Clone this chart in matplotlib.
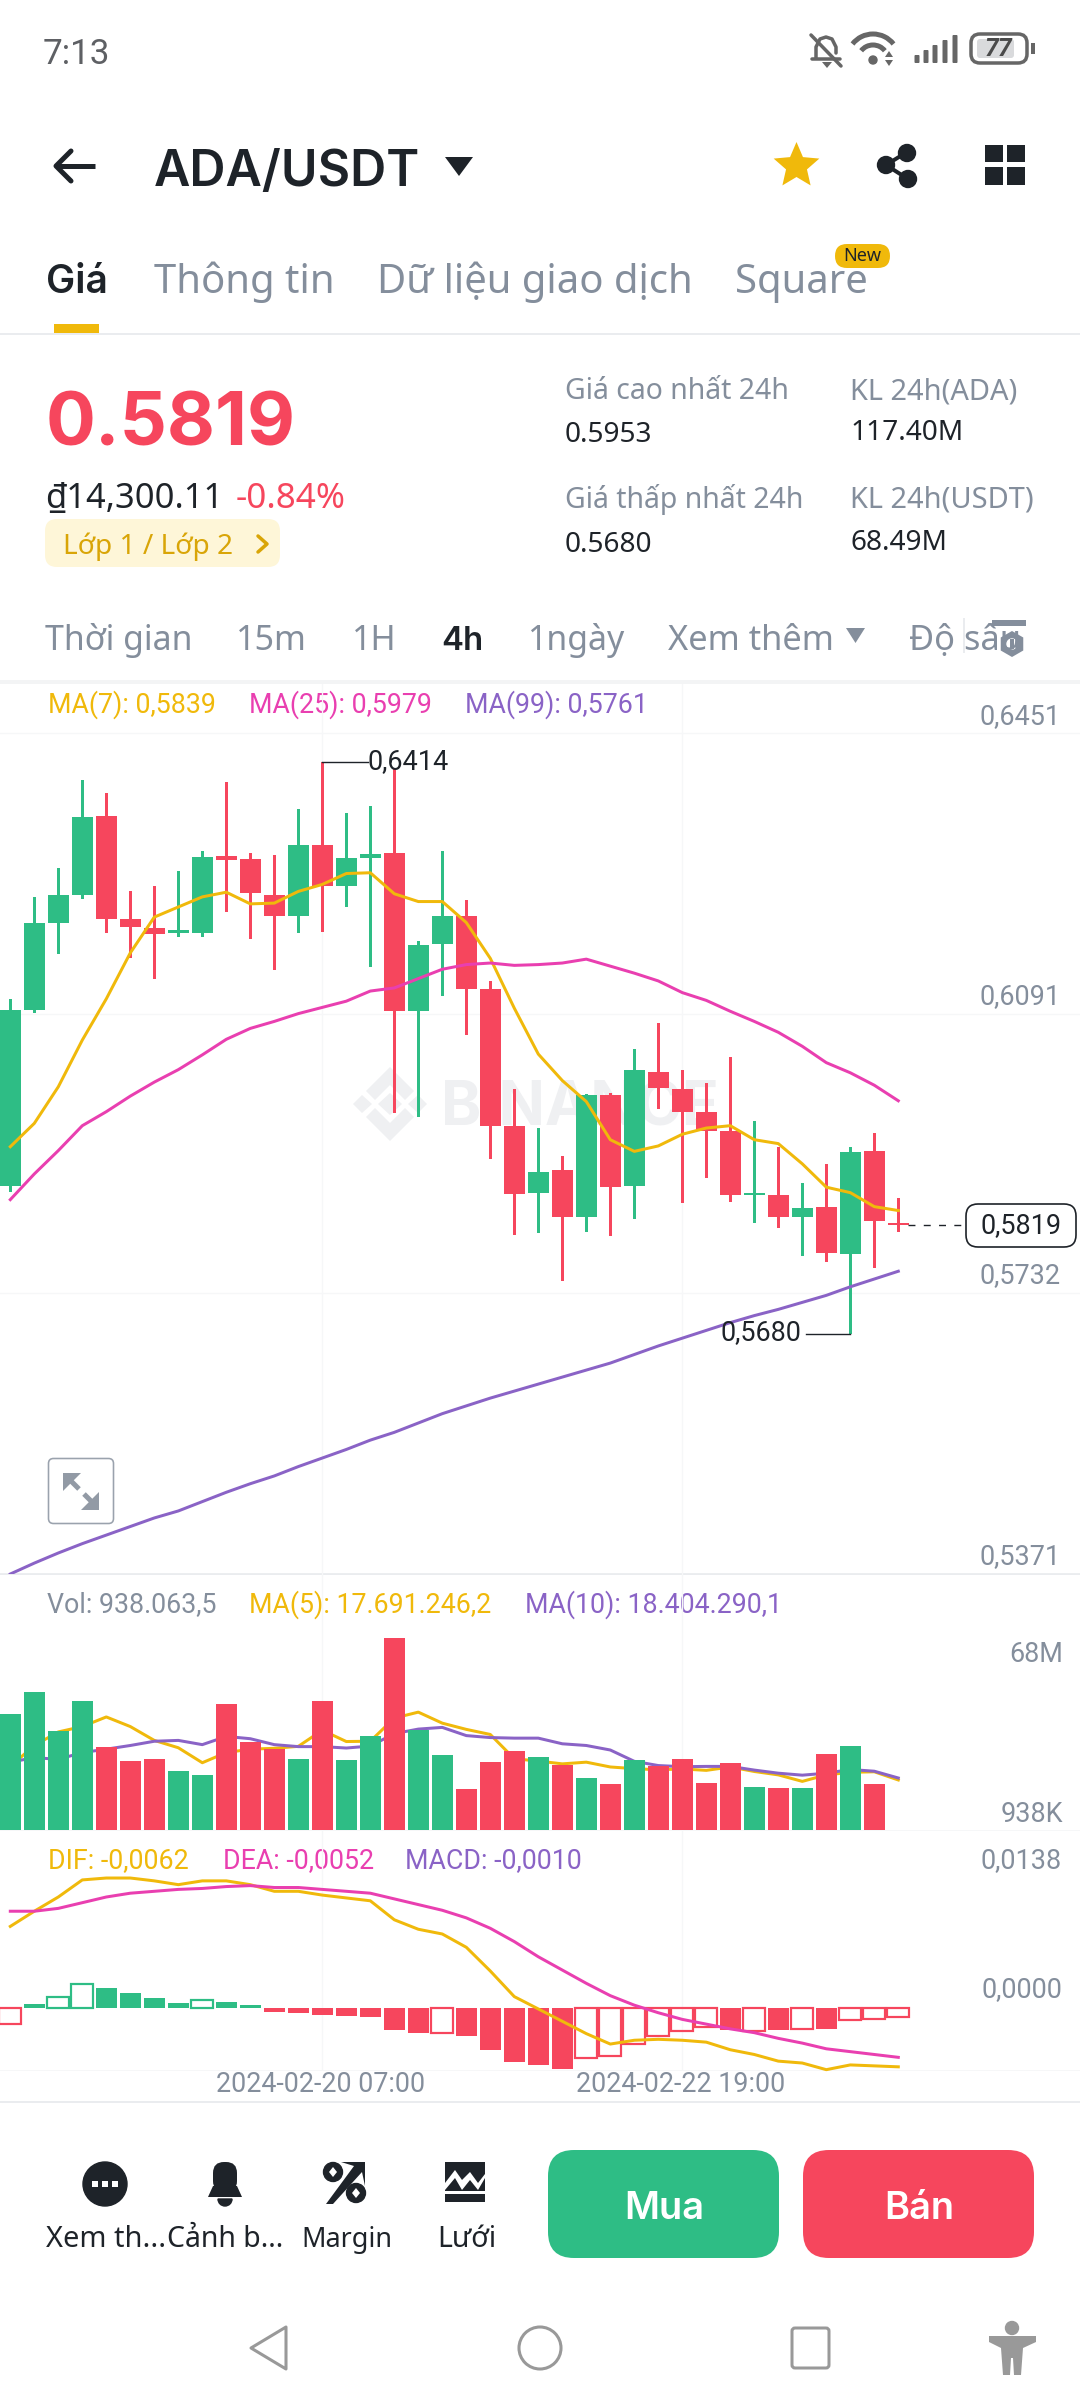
import numpy as np
import matplotlib
matplotlib.use('Agg')
import matplotlib.pyplot as plt
from matplotlib.patches import Polygon, Circle, Rectangle, FancyBboxPatch, Arc, Wedge

# candles, oldest first
opens = [.5870, .6096, .6208, .6243, .6345, .6212, .6201, .6194, .6195, .6293, .6290, .6244, .6216, .6308, .6255, .6291, .6297, .6095, .6180,
         .6216, .6123, .5946, .5860, .5890, .5830, .5987, .5869, .6016, .5994, .5964, .5940, .5858, .5858, .5830, .5842, .5782, .5914, .5822]
highs = [.6110, .6241, .6278, .6391, .6375, .6249, .6255, .6274, .6300, .6389, .6298, .6295, .6354, .6414, .6349, .6358, .6407, .6184, .6300,
         .6237, .6133, .5994, .5944, .5908, .5988, .5989, .6046, .6079, .6019, .6002, .6035, .5953, .5920, .5874, .5898, .5919, .5937, .5854]
lows = [.5862, .6092, .6167, .6238, .6195, .6162, .6135, .6190, .6189, .6222, .6187, .6147, .6194, .6196, .6228, .6151, .5963, .5958, .6114,
        .6064, .5904, .5806, .5809, .5747, .5810, .5805, .5827, .5968, .5848, .5880, .5849, .5822, .5816, .5780, .5772, .5680, .5764, .5811]
closes = [.6096, .6208, .6243, .6344, .6212, .6202, .6193, .6198, .6292, .6288, .6246, .6217, .6308, .6255, .6291, .6296, .6095, .6179, .6216,
          .6123, .5946, .5859, .5888, .5830, .5987, .5868, .6018, .5995, .5965, .5940, .5858, .5861, .5830, .5841, .5784, .5913, .5824, .5819]

ma7 = [.5920, .5950, .5997, .6057, .6110, .6169, .6215, .6228, .6241, .6247, .6232, .6233, .6248, .6257, .6271, .6272, .6245, .6235, .6235,
       .6208, .6162, .6098, .6039, .6005, .5978, .5929, .5914, .5921, .5936, .5944, .5947, .5929, .5924, .5898, .5868, .5861, .5843, .5838]
ma25 = [.5852, .5885, .5915, .5947, .5965, .5985, .6003, .6019, .6038, .6058, .6072, .6081, .6091, .6099, .6107, .6120, .6124, .6136, .6148,
        .6154, .6156, .6153, .6154, .6156, .6161, .6152, .6143, .6133, .6118, .6108, .6094, .6081, .6067, .6049, .6028, .6015, .5999, .5979]
ma99 = [.5371, .5385, .5398, .5410, .5421, .5432, .5443, .5452, .5464, .5476, .5487, .5497, .5509, .5520, .5531, .5543, .5553, .5565, .5577,
        .5587, .5597, .5606, .5615, .5624, .5633, .5642, .5653, .5664, .5674, .5684, .5694, .5703, .5711, .5720, .5729, .5740, .5750, .5760]

# volume in millions
volume = [40.9, 48.7, 35.0, 45.6, 29.4, 24.3, 25.0, 20.8, 19.5, 44.6, 31.3, 28.6, 25.0, 45.7, 24.6, 33.3, 68.0, 35.3, 26.7,
          14.4, 24.0, 27.8, 25.8, 23.0, 18.4, 16.2, 24.7, 22.5, 25.1, 16.7, 23.8, 15.1, 14.9, 14.9, 26.8, 29.6, 16.3, 0.938]
vol_ma5 = [22.5, 29.9, 34.7, 36.6, 40.0, 36.6, 31.7, 29.1, 23.8, 27.4, 28.6, 28.9, 29.6, 35.3, 31.3, 31.4, 39.6, 41.7, 37.8,
           35.6, 33.8, 25.2, 24.4, 23.4, 24.0, 22.3, 21.7, 21.3, 21.6, 21.1, 22.3, 20.7, 19.5, 17.2, 19.5, 20.4, 20.6, 17.7]
vol_ma10 = [24.0, 25.6, 25.0, 27.4, 28.6, 29.9, 31.4, 31.7, 30.2, 33.1, 32.3, 30.2, 29.5, 29.5, 29.0, 29.7, 34.1, 35.7, 36.3,
            33.4, 32.7, 32.5, 32.5, 30.5, 29.9, 28.3, 24.3, 22.8, 22.4, 22.5, 22.5, 21.2, 20.1, 19.4, 20.1, 21.4, 20.8, 18.4]

dif = [.0086, .0102, .0117, .0135, .0137, .0137, .0134, .0130, .0134, .0134, .0130, .0123, .0123, .0119, .0116, .0113, .0093, .0083, .0078,
       .0064, .0039, .0012, -.0001, -.0014, -.0027, -.0038, -.0034, -.0033, -.0034, -.0036, -.0044, -.0049, -.0056, -.0058, -.0065, -.0060, -.0061, -.0062]
dea = [.0102, .0102, .0105, .0111, .0117, .0121, .0123, .0125, .0126, .0128, .0129, .0127, .0127, .0125, .0123, .0121, .0115, .0109, .0103,
       .0095, .0084, .0070, .0054, .0040, .0026, .0013, .0003, -.0005, -.0012, -.0017, -.0022, -.0026, -.0032, -.0037, -.0043, -.0046, -.0049, -.0052]
macd = [-.0017, .0004, .0012, .0025, .0021, .0016, .0011, .0005, .0008, .0006, .0003, -.0004, -.0005, -.0007, -.0008, -.0009, -.0023, -.0026, -.0026,
        -.0030, -.0044, -.0057, -.0060, -.0064, -.0053, -.0051, -.0038, -.0029, -.0024, -.0020, -.0023, -.0024, -.0023, -.0022, -.0022, -.0013, -.0012, -.0010]
macd_hollow = [0, 2, 3, 8, 18, 24, 25, 26, 27, 28, 29, 31, 33, 35, 36, 37]

price_ticks = [.6451, .6091, .5732, .5371]
price_labels = ['0,6451', '0,6091', '0,5732', '0,5371']
date_idx = [13, 28]
date_labels = ['2024-02-20 07:00', '2024-02-22 19:00']

W, H = 1080, 2408
GREEN = '#2EBD85'
RED = '#F6465D'
YELLOW = '#F0B90B'
PINK = '#E93FB0'
PURPLE = '#8A63C6'
DARK = '#1E2329'
GRAY = '#848E9C'
LINE = '#EAECEF'
GRID = '#F6F7F8'
NAV = '#999999'
SANS = ['Noto Sans', 'DejaVu Sans']
ROBOTO = ['Roboto', 'DejaVu Sans']
INTER = ['Inter', 'DejaVu Sans']

fig = plt.figure(figsize=(W / 100, H / 100), dpi=100, facecolor='white')

# overlay in screen pixels for the app chrome
ov = fig.add_axes([0, 0, 1, 1], zorder=0)
ov.set_xlim(0, W)
ov.set_ylim(H, 0)
ov.axis('off')


def T(x, y, s, px, color=DARK, ha='left', va='baseline', weight='normal', family=SANS, **kw):
    return ov.text(x, y, s, fontsize=px * 0.72, color=color, ha=ha, va=va, fontweight=weight, family=family, **kw)


def poly(pts, color=DARK, **kw):
    ov.add_patch(Polygon(pts, closed=True, facecolor=color, edgecolor='none', **kw))


def rect(x0, y0, x1, y1, color):
    ov.add_patch(Rectangle((x0, y0), x1 - x0, y1 - y0, facecolor=color, edgecolor='none'))


def rrect(x0, y0, x1, y1, r, fc, ec='none', lw=0):
    ov.add_patch(FancyBboxPatch((x0, y0), x1 - x0, y1 - y0, boxstyle='round,pad=0,rounding_size=%s' % r, facecolor=fc, edgecolor=ec, linewidth=lw * 0.72))


def seg(xs, ys, color=DARK, lw=3, cap='round', **kw):
    ov.plot(xs, ys, color=color, lw=lw * 0.72, solid_capstyle=cap, solid_joinstyle='round', **kw)


# status bar
T(43, 64, '7:13', 35, '#5E6064', family=ROBOTO)
STAT = '#666666'
seg([816, 816, 820, 826, 832, 836, 836], [58, 47, 39, 37, 39, 47, 53], STAT, 3.5)
seg([812, 840], [59, 59], STAT, 3.5)
seg([811, 841], [35, 66], STAT, 3.5)
poly([(822, 62), (832, 62), (827, 68)], STAT)
ov.add_patch(Arc((873, 60), 52, 52, theta1=218, theta2=322, color=STAT, lw=5 * 0.72))
ov.add_patch(Arc((873, 60), 30, 30, theta1=218, theta2=322, color=STAT, lw=5 * 0.72))
ov.add_patch(Circle((873, 60), 4, color=STAT))
poly([(885, 57), (893, 57), (889, 51)], STAT)
poly([(885, 60), (893, 60), (889, 66)], STAT)
for xb, yb in zip([917, 926, 935, 945, 955], [55, 50, 45, 40, 35]):
    rrect(xb - 2.5, yb, xb + 2.5, 63, 1, STAT)
rrect(971, 34, 1027, 63, 9, 'white', STAT, 3.5)
rrect(977, 39, 1014, 58, 3, '#D9DADC')
rect(1031, 43, 1035, 54, STAT)
T(999, 49, '77', 25, '#4A4A4A', ha='center', va='center', weight='bold', family=ROBOTO, style='italic')

# header
seg([56, 95], [166, 166], DARK, 5, cap='butt')
seg([71, 56, 71], [151, 166, 181], DARK, 5)
T(154, 186, 'ADA/USDT', 50, DARK, weight='semibold', family=INTER)
poly([(445, 157), (473, 157), (459, 176)], DARK)
th = np.linspace(-np.pi / 2, 1.5 * np.pi, 11)[:-1]
rad = np.where(np.arange(10) % 2 == 0, 24, 11)
poly(np.c_[796.5 + rad * np.cos(th), 166 + rad * np.sin(th)], YELLOW)
seg([886, 907], [165, 152], DARK, 4)
seg([886, 908], [165, 179], DARK, 4)
for cx, cy in [(907, 153), (886, 165), (908, 179)]:
    ov.add_patch(Circle((cx, cy), 8.5, color=DARK))
rect(985, 145, 1003, 162, DARK)
rect(1007, 145, 1025, 162, DARK)
rect(985, 167, 1003, 185, DARK)
rect(1007, 167, 1025, 185, DARK)

# tabs
T(46, 293, 'Giá', 39, DARK, weight='semibold', family=INTER)
T(154, 293, 'Thông tin', 40, GRAY)
T(377, 293, 'Dữ liệu giao dịch', 40, GRAY)
T(735, 293, 'Square', 40, GRAY)
rrect(835, 244, 890, 268, 12, YELLOW)
T(862.5, 256, 'New', 18, DARK, ha='center', va='center')
rect(54, 324, 99, 333, YELLOW)
rect(0, 333, W, 335, LINE)

# price block
T(46, 446, '0.5819', 74, RED, weight='bold', family=INTER)
T(45, 508, '₫14,300.11', 34.5, DARK)
T(236, 508, '-0.84%', 35, RED)
rrect(45, 519, 280, 567, 12, '#FEF6D8')
T(63, 554, 'Lớp 1 / Lớp 2', 28, '#D9A507')
seg([258, 267, 258], [536, 544, 552], '#D9A507', 3.5)
T(565, 399, 'Giá cao nhất 24h', 28.4, GRAY)
T(565, 442, '0.5953', 28, DARK)
T(565, 508, 'Giá thấp nhất 24h', 28.4, GRAY)
T(565, 552, '0.5680', 28, DARK)
T(850, 399, 'KL 24h(ADA)', 29, GRAY)
T(850, 440, '117.40M', 28, DARK)
T(850, 507, 'KL 24h(USDT)', 29, GRAY)
T(850, 550, '68.49M', 28, DARK)

# interval row
T(45, 650, 'Thời gian', 33.8, GRAY)
T(236, 650, '15m', 34, GRAY)
T(352, 650, '1H', 34, GRAY)
T(441, 650, '4h', 33, DARK, weight='semibold', family=INTER)
T(527, 650, '1ngày', 33.8, GRAY)
T(668, 650, 'Xem thêm', 34.5, GRAY)
poly([(846, 628), (865, 628), (855.5, 643)], GRAY)
T(909, 650, 'Độ sâu', 34.5, GRAY)
seg([964, 964], [618, 653], LINE, 2, cap='butt')
rect(992, 620, 1026, 626, GRAY)
hx = np.linspace(np.pi / 2, 2.5 * np.pi, 7)[:-1]
poly(np.c_[1012 + 13 * np.cos(hx), 644 + 13 * np.sin(hx)], GRAY)
ov.add_patch(Circle((1012, 644), 5, color='white'))
rect(1010, 639, 1014, 649, GRAY)
rect(0, 680, W, 684, '#F3F4F5')

# watermark sits behind the candles
WM = '#EFF0F2'
poly([(390, 1093), (402, 1104), (390, 1115), (378, 1104)], WM)
poly([(353, 1104), (362, 1095), (372, 1104), (362, 1113)], WM)
poly([(408, 1104), (418, 1095), (427, 1104), (418, 1113)], WM)
poly([(390, 1067), (414, 1091), (405, 1100), (390, 1085), (375, 1100), (366, 1091)], WM)
poly([(390, 1141), (414, 1117), (405, 1108), (390, 1123), (375, 1108), (366, 1117)], WM)
T(441, 1125, 'BINANCE', 61, WM, weight='bold', family=INTER)

# chart panels, x is candle index, one candle every 24px starting at 10.3px
XLIM = (-10.3 / 24, (W - 10.3) / 24)


def panel(top, bottom, ylim):
    ax = fig.add_axes([0, 1 - bottom / H, 1, (bottom - top) / H], zorder=1)
    ax.patch.set_visible(False)
    ax.set_xlim(*XLIM)
    ax.set_ylim(*ylim)
    for s in ax.spines.values():
        s.set_visible(False)
    ax.tick_params(length=0, labelleft=False, labelbottom=False)
    ax.set_xticks(date_idx)
    ax.grid(True, color=GRID, lw=1.0)
    ax.set_axisbelow(True)
    return ax


idx = np.arange(len(closes))
colors = [GREEN if c >= o else RED for o, c in zip(opens, closes)]
BODY = 21 / 24
WICK = 2.8 / 24
MA_LW = 3.0 * 0.72

# price panel
P_PX = 0.036 / 280
ax_p = panel(684, 1574, (.5371, .6451 + 49.4 * P_PX))
ax_p.set_yticks(price_ticks)
ax_p.bar(idx, np.array(highs) - np.array(lows), bottom=lows, width=WICK, color=colors, linewidth=0, zorder=2)
ax_p.bar(idx, np.abs(np.array(closes) - np.array(opens)), bottom=np.minimum(opens, closes), width=BODY, color=colors, linewidth=0, zorder=3)
ax_p.plot(idx, ma7, color=YELLOW, lw=MA_LW, zorder=4)
ax_p.plot(idx, ma25, color=PINK, lw=MA_LW, zorder=4)
ax_p.plot(idx, ma99, color=PURPLE, lw=MA_LW, zorder=4)

for val, lab in zip(price_ticks, price_labels):
    ax_p.annotate(lab, (W - 19, val), xycoords=('figure pixels', 'data'), xytext=(0, 17), textcoords='offset pixels',
                  ha='right', va='center', fontsize=27 * 0.72, color=GRAY, family=ROBOTO)

# high / low markers
hi = int(np.argmax(highs))
lo = int(np.argmin(lows))
ax_p.plot([hi, hi + 1.9], [highs[hi], highs[hi]], color=DARK, lw=1.0, zorder=5)
ax_p.annotate('0,6414', (hi + 1.9, highs[hi]), xytext=(0, 1), textcoords='offset pixels', va='center', ha='left',
              fontsize=27 * 0.72, color=DARK, family=ROBOTO, zorder=6)
ax_p.plot([lo - 1.83, lo], [lows[lo], lows[lo]], color=DARK, lw=1.0, zorder=5)
ax_p.annotate('0,5680', (lo - 2, lows[lo]), xytext=(-1, 1), textcoords='offset pixels', va='center', ha='right',
              fontsize=27 * 0.72, color=DARK, family=ROBOTO, zorder=6)

# last price
last = closes[-1]
ax_p.plot([idx[-1] + 0.42, 39.7], [last, last], color=DARK, lw=1.0, dashes=(5, 6), zorder=5)
bx = FancyBboxPatch((966, 1204), 110, 43, boxstyle='round,pad=0,rounding_size=12', facecolor='white', edgecolor=DARK, linewidth=1.2)
ov.add_patch(bx)

# volume panel
V_PX = 68 / 192.2
ax_v = panel(1574, 1830, (0, 256 * V_PX))
ax_v.set_yticks([])
# the last candle's 938K bar does not show on the chart
ax_v.bar(idx[:-1], volume[:-1], width=BODY, color=colors[:-1], linewidth=0, zorder=2)
ax_v.plot(idx, vol_ma5, color=YELLOW, lw=MA_LW, zorder=1.5)
ax_v.plot(idx, vol_ma10, color=PURPLE, lw=MA_LW, zorder=1.6)

# macd panel
M_PX = 1.054e-4
ax_m = panel(1830, 2071, (-(2071 - 2008) * M_PX, (2008 - 1830) * M_PX))
ax_m.set_yticks([])
solid = [i for i in idx if i not in macd_hollow]
hist_col = [GREEN if m > 0 else RED for m in macd]
ax_m.bar(solid, [macd[i] for i in solid], width=BODY, color=[hist_col[i] for i in solid], linewidth=0, zorder=2)
ax_m.bar(macd_hollow, [macd[i] for i in macd_hollow], width=0.91, fill=False, edgecolor=[hist_col[i] for i in macd_hollow], linewidth=2.2 * 0.72, zorder=2)
ax_m.plot(idx, dif, color=YELLOW, lw=MA_LW, zorder=3, clip_on=False)
ax_m.plot(idx, dea, color=PINK, lw=MA_LW, zorder=3)

# panel separators and vertical grid below the macd
rect(0, 1572.5, W, 1574.5, LINE)
rect(0, 1829.5, W, 1830.5, GRID)
rect(0, 2069.5, W, 2070.5, GRID)
rect(0, 2101, W, 2103, LINE)

# legends
LEG = 26.8
T(48, 705, 'MA(7): 0,5839', LEG, YELLOW, va='center', family=ROBOTO)
T(249, 705, 'MA(25): 0,5979', LEG, PINK, va='center', family=ROBOTO)
T(465, 705, 'MA(99): 0,5761', LEG, PURPLE, va='center', family=ROBOTO)
T(47, 1605, 'Vol: 938.063,5', LEG, GRAY, va='center', family=ROBOTO)
T(249, 1605, 'MA(5): 17.691.246,2', LEG, YELLOW, va='center', family=ROBOTO)
T(525, 1605, 'MA(10): 18.404.290,1', LEG, PURPLE, va='center', family=ROBOTO)
T(1063, 1654, '68M', 27, GRAY, ha='right', va='center', family=ROBOTO)
T(1063, 1814, '938K', 27, GRAY, ha='right', va='center', family=ROBOTO)
T(48, 1861, 'DIF: -0,0062', LEG, YELLOW, va='center', family=ROBOTO)
T(223, 1861, 'DEA: -0,0052', LEG, PINK, va='center', family=ROBOTO)
T(405, 1861, 'MACD: -0,0010', LEG, PURPLE, va='center', family=ROBOTO)
T(1062, 1861, '0,0138', 27, GRAY, ha='right', va='center', family=ROBOTO)
T(1062, 1990, '0,0000', 27, GRAY, ha='right', va='center', family=ROBOTO)
for i, lab in zip(date_idx, date_labels):
    T(8.8 + 24 * i, 2085, lab, 26.9, GRAY, ha='center', va='center', family=ROBOTO)
ax_p.annotate('0,5819', (1021, 1225.5), xycoords=ov.transData, ha='center', va='center', fontsize=27 * 0.72, color=DARK, family=ROBOTO, zorder=6)

# expand button
rrect(48.5, 1458.5, 113.5, 1523.5, 5, 'white', '#9AA2AD', 1.6)
EXP = '#929AA5'
poly([(63, 1473), (81, 1473), (63, 1491)], EXP)
poly([(99, 1510), (81, 1510), (99, 1492)], EXP)
seg([70, 79], [1480, 1489], EXP, 5, cap='butt')
seg([84, 93], [1494, 1503], EXP, 5, cap='butt')

# bottom toolbar
ov.add_patch(Circle((105, 2184), 22, color=DARK))
for xd in [95, 105, 115]:
    rect(xd - 3, 2181, xd + 3, 2187, 'white')
rrect(213, 2162, 237, 2192, 11, DARK)
poly([(208, 2197), (213, 2186), (237, 2186), (242, 2197)], DARK)
ov.add_patch(Wedge((225, 2199), 7, 0, 180, color=DARK))
poly([(326, 2204), (333, 2204), (362, 2172), (365, 2186), (365, 2162), (341, 2162), (354, 2166)], DARK)
for dx, dy in [(333, 2172), (356, 2193)]:
    ov.add_patch(Circle((dx, dy), 9.5, color=DARK))
    poly([(dx, dy - 5), (dx + 4, dy), (dx, dy + 5), (dx - 4, dy)], 'white')
rect(445, 2162, 485, 2191, DARK)
rect(445, 2194, 485, 2202, DARK)
poly([(445, 2183), (455, 2170), (462, 2180), (470, 2172), (478, 2183), (485, 2174), (485, 2178), (478, 2190), (470, 2180), (462, 2190), (455, 2178), (445, 2190)], 'white')
T(46, 2247, 'Xem th...', 29, DARK)
T(167, 2247, 'Cảnh b...', 28.4, DARK)
T(301, 2247, 'Margin', 27, DARK)
T(437, 2247, 'Lưới', 28.5, DARK)
rrect(548, 2150, 779, 2258, 26, GREEN)
rrect(803, 2150, 1034, 2258, 26, RED)
T(664, 2209, 'Mua', 38, 'white', ha='center', va='center', weight='semibold', family=INTER)
T(919, 2209, 'Bán', 38, 'white', ha='center', va='center', weight='semibold', family=INTER)

# navigation bar
ov.add_patch(Polygon([(286, 2327), (286, 2369), (251, 2348)], closed=True, fill=False, edgecolor=NAV, linewidth=2.2, joinstyle='round'))
ov.add_patch(Circle((540, 2348), 21, fill=False, edgecolor=NAV, linewidth=2.2))
rrect(792, 2328, 829, 2368, 3, 'white', NAV, 3)
ov.add_patch(Circle((1012, 2328), 6.5, color=NAV))
poly([(989, 2336), (1036, 2336), (1036, 2342), (1023, 2348), (1021, 2375), (1014, 2375), (1013, 2358), (1011, 2358), (1010, 2375), (1003, 2375), (1001, 2348), (989, 2342)], NAV)

fig.savefig('out.png', dpi=100)
